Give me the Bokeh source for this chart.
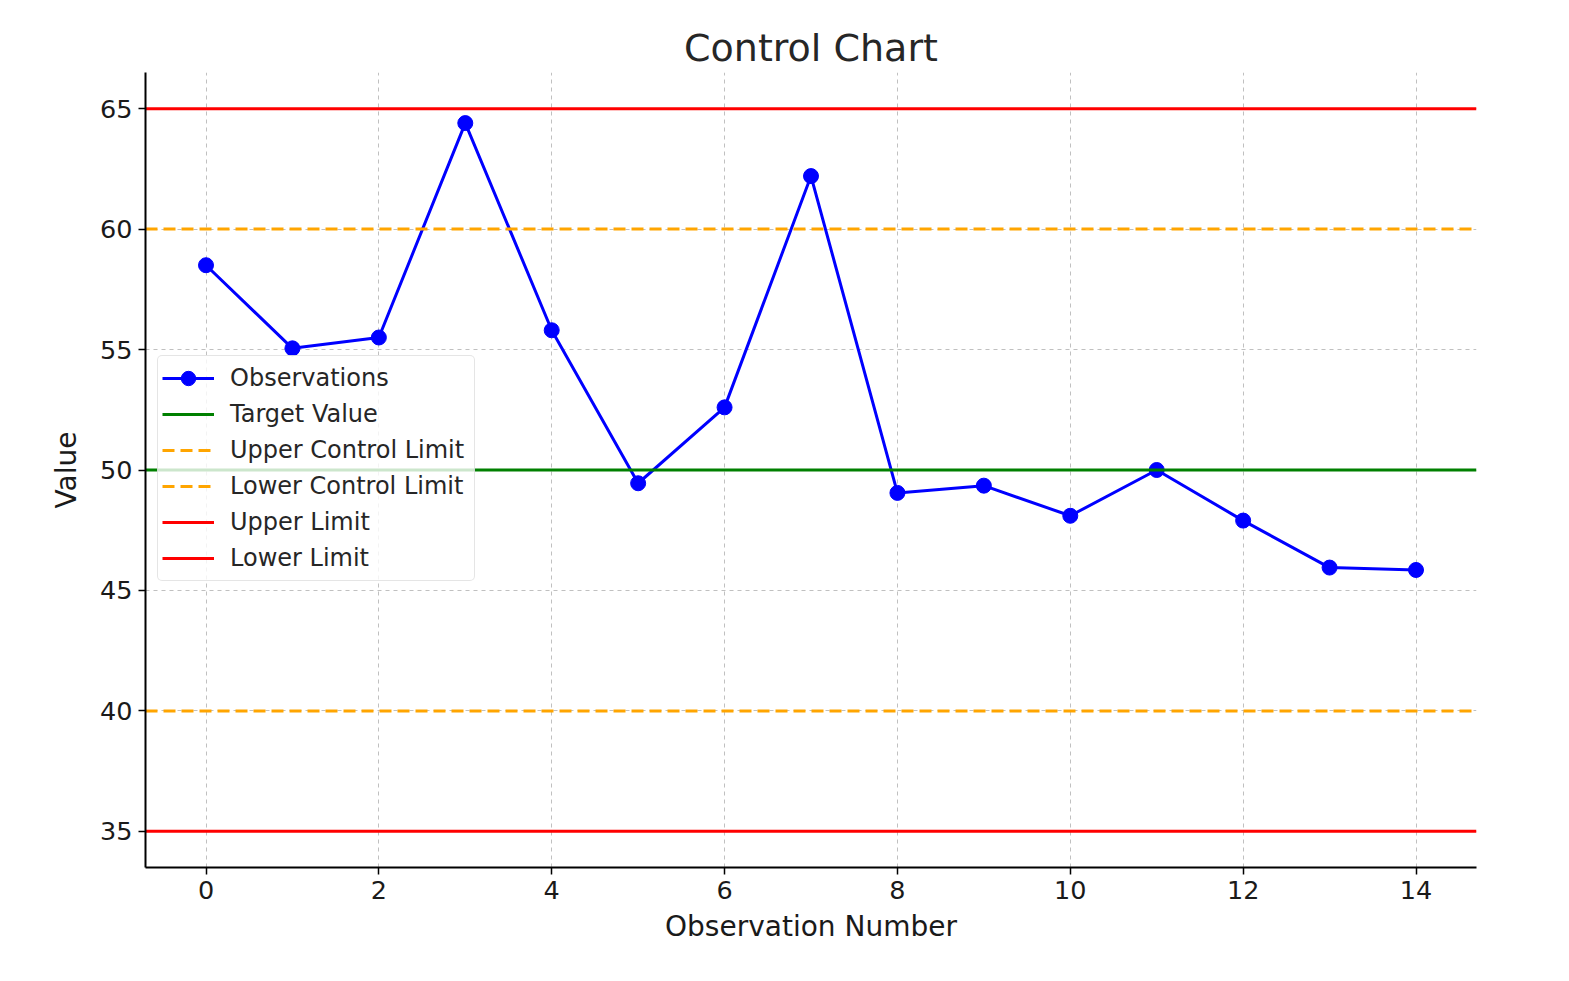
from bokeh.plotting import figure
from bokeh.models import Range1d, SingleIntervalTicker, Legend, LegendItem
from bokeh.embed import file_html
from bokeh.resources import INLINE

# ---- data ----
observation_number = list(range(15))
observations = [58.5, 55.05, 55.5, 64.4, 55.8, 49.45, 52.6, 62.2, 49.05, 49.35, 48.1, 50.0, 47.9, 45.95, 45.85]
target_value = 50
upper_control_limit = 60
lower_control_limit = 40
upper_limit = 65
lower_limit = 35

FONT = "DejaVu Sans"

xmin, xmax = min(observation_number), max(observation_number)
xpad = (xmax - xmin) * 0.05
ymin, ymax = lower_limit, upper_limit
ypad = (ymax - ymin) * 0.05
x_range = Range1d(xmin - xpad, xmax + xpad)
y_range = Range1d(ymin - ypad, ymax + ypad)

p = figure(width=1540, height=966, x_range=x_range, y_range=y_range,
           output_backend="svg", toolbar_location=None,
           min_border_left=145, min_border_right=64, min_border_top=72, min_border_bottom=99,
           title="Control Chart")
p.outline_line_color = None
p.background_fill_color = "white"

p.title.align = "center"
p.title.text_font = FONT
p.title.text_font_size = "38px"
p.title.text_font_style = "normal"
p.title.text_color = "#262626"
p.title.standoff = 6

for ax in (p.xaxis[0], p.yaxis[0]):
    ax.axis_line_width = 2
    ax.axis_line_color = "black"
    ax.major_tick_line_width = 1.5
    ax.major_tick_line_color = "black"
    ax.major_tick_out = 7
    ax.major_tick_in = 0
    ax.minor_tick_line_color = None
    ax.major_label_text_font = FONT
    ax.major_label_text_font_size = "25.5px"
    ax.major_label_text_color = "#1a1a1a"
    ax.axis_label_text_font = FONT
    ax.axis_label_text_font_size = "28px"
    ax.axis_label_text_font_style = "normal"
    ax.axis_label_text_color = "#1a1a1a"

p.xaxis[0].ticker = SingleIntervalTicker(interval=2)
p.yaxis[0].ticker = SingleIntervalTicker(interval=5)
p.xaxis.axis_label = "Observation Number"
p.yaxis.axis_label = "Value"
p.xaxis.major_label_standoff = 6
p.yaxis.major_label_standoff = 6
p.xaxis.axis_label_standoff = 8
p.yaxis.axis_label_standoff = 14

p.xgrid.ticker = p.xaxis[0].ticker
p.ygrid.ticker = p.yaxis[0].ticker
for g in (p.xgrid[0], p.ygrid[0]):
    g.grid_line_color = "#b0b0b0"
    g.grid_line_alpha = 0.8
    g.grid_line_dash = "4 4"
    g.grid_line_width = 1

hx = [x_range.start, x_range.end]

r_obs_line = p.line(observation_number, observations, line_color="#0000ff", line_width=3)
r_obs_pts = p.scatter(observation_number, observations, size=15, fill_color="#0000ff", line_color="#0000ff")
r_target = p.line(hx, [target_value] * 2, line_color="#008000", line_width=3)
r_ucl = p.line(hx, [upper_control_limit] * 2, line_color="#ffa500", line_width=3, line_dash="12 6")
r_lcl = p.line(hx, [lower_control_limit] * 2, line_color="#ffa500", line_width=3, line_dash="12 6")
r_ul = p.line(hx, [upper_limit] * 2, line_color="#ff0000", line_width=3)
r_ll = p.line(hx, [lower_limit] * 2, line_color="#ff0000", line_width=3)

legend = Legend(items=[
    LegendItem(label="Observations", renderers=[r_obs_line, r_obs_pts]),
    LegendItem(label="Target Value", renderers=[r_target]),
    LegendItem(label="Upper Control Limit", renderers=[r_ucl]),
    LegendItem(label="Lower Control Limit", renderers=[r_lcl]),
    LegendItem(label="Upper Limit", renderers=[r_ul]),
    LegendItem(label="Lower Limit", renderers=[r_ll]),
], location=(12, 286))
legend.label_text_font = FONT
legend.label_text_font_size = "24px"
legend.label_text_color = "#262626"
legend.glyph_width = 52
legend.glyph_height = 36
legend.label_height = 36
legend.label_width = 240
legend.label_standoff = 16
legend.spacing = 0
legend.padding = 4
legend.margin = 0
legend.border_line_color = "#cccccc"
legend.border_line_width = 1.5
legend.border_radius = 5
legend.background_fill_alpha = 0.8
p.add_layout(legend, "center")

open("out.html", "w").write(file_html(p, INLINE))
